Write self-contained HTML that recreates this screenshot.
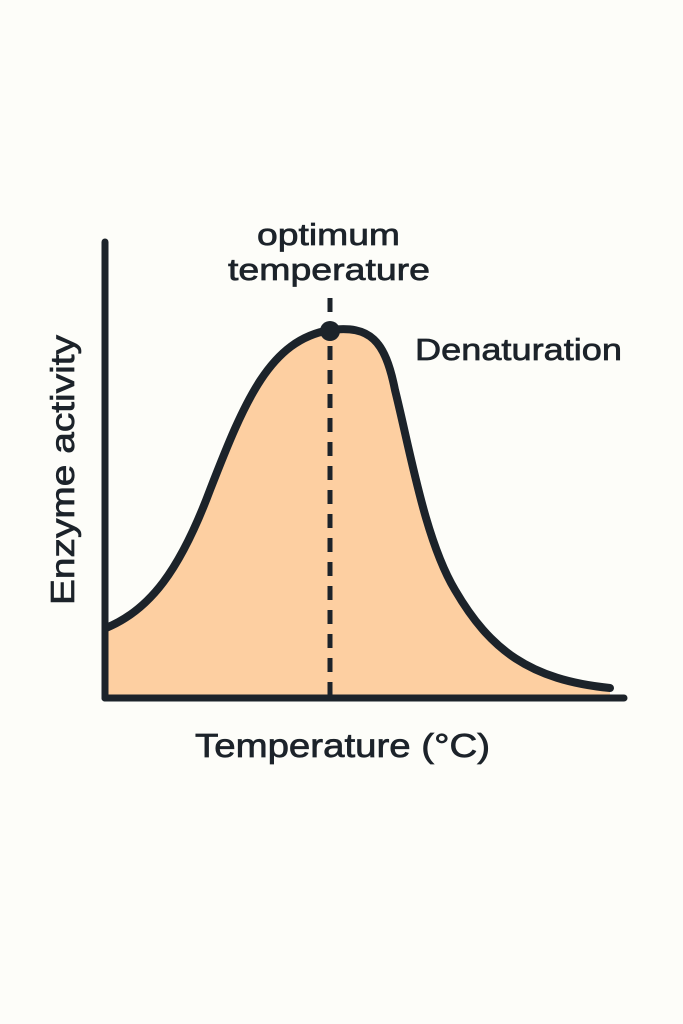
<!DOCTYPE html>
<html><head><meta charset="utf-8"><style>
html,body{margin:0;padding:0;background:#fdfdf9;}
svg{display:block;}
text{font-family:"Liberation Sans",sans-serif;fill:#1c232a;stroke:#1c232a;stroke-width:0.7;}
</style></head><body>
<svg width="683" height="1024" viewBox="0 0 683 1024">
<rect width="683" height="1024" fill="#fdfdf9"/>
<path d="M106,628 C150,610 180,570 210,490 C245,400 270,340 330,330 C370,325 385,340 395,390 C410,450 425,540 455,590 C490,650 530,680 610,688 L610,697 L106,697 Z" fill="#fdcfa1"/>
<path d="M106,628 C150,610 180,570 210,490 C245,400 270,340 330,330 C370,325 385,340 395,390 C410,450 425,540 455,590 C490,650 530,680 610,688" fill="none" stroke="#1c232a" stroke-width="8" stroke-linecap="round"/>
<line x1="330" y1="298" x2="330" y2="695" stroke="#1c232a" stroke-width="5" stroke-dasharray="14,10"/>
<circle cx="330" cy="331" r="10" fill="#1c232a"/>
<line x1="105" y1="242" x2="105" y2="698" stroke="#1c232a" stroke-width="7" stroke-linecap="round"/>
<line x1="105" y1="698" x2="624" y2="698" stroke="#1c232a" stroke-width="7" stroke-linecap="round"/>
<text x="257" y="245" font-size="31" textLength="143" lengthAdjust="spacingAndGlyphs">optimum</text>
<text x="228" y="280" font-size="31" textLength="202" lengthAdjust="spacingAndGlyphs">temperature</text>
<text x="415" y="360" font-size="31" textLength="207" lengthAdjust="spacingAndGlyphs">Denaturation</text>
<text x="195" y="757" font-size="33" textLength="295" lengthAdjust="spacingAndGlyphs">Temperature  (°C)</text>
<text transform="translate(74,605) rotate(-90)" font-size="33" textLength="270" lengthAdjust="spacingAndGlyphs">Enzyme activity</text>
</svg>
</body></html>
